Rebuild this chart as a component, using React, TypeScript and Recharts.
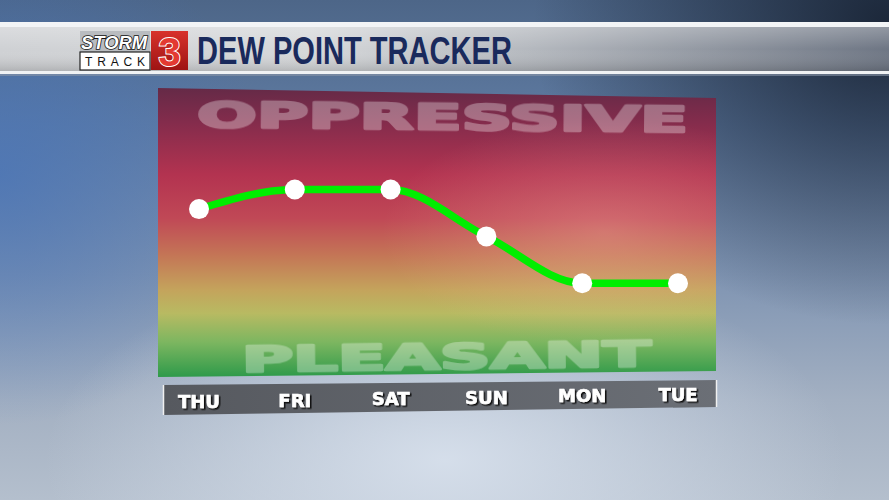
import React from 'react';
import { LineChart, Line, XAxis, YAxis, Customized } from 'recharts';

const days = ['THU', 'FRI', 'SAT', 'SUN', 'MON', 'TUE'];
const dewPoints = [65.5, 68, 68, 62, 56, 56];
const title = 'DEW POINT TRACKER';
const topLabel = 'OPPRESSIVE';
const bottomLabel = 'PLEASANT';

const data = days.map((d, i) => ({ day: d, dew: dewPoints[i] }));

const W = 889;
const H = 500;

const DayTick = (props: any) => {
  const { x, y, payload } = props;
  const tilt = (x - 199) * 0.0146;
  const by = y + 23 - tilt;
  return (
    <text
      x={x}
      y={by}
      textAnchor="middle"
      fill="#ffffff"
      stroke="#ffffff"
      strokeWidth={0.6}
      fontFamily="DejaVu Sans"
      fontWeight="bold"
      fontSize={18}
      filter="url(#tickShadow)"
    >
      {payload.value}
    </text>
  );
};

const Decor = () => (
  <g>
    <defs>
      <linearGradient id="panelGrad" x1="0" y1="0" x2="0" y2="1">
        <stop offset="0" stopColor="#652a47" />
        <stop offset="0.12" stopColor="#842c4c" />
        <stop offset="0.3" stopColor="#b33350" />
        <stop offset="0.45" stopColor="#c04856" />
        <stop offset="0.58" stopColor="#c47656" />
        <stop offset="0.7" stopColor="#c4a45c" />
        <stop offset="0.78" stopColor="#b8ba62" />
        <stop offset="0.88" stopColor="#7cb660" />
        <stop offset="1" stopColor="#2e9a4a" />
      </linearGradient>
      <radialGradient id="glare" cx="0.8" cy="0.5" r="0.4">
        <stop offset="0" stopColor="#ffc8b4" stopOpacity="0.28" />
        <stop offset="1" stopColor="#ffc8b4" stopOpacity="0" />
      </radialGradient>
      <linearGradient id="headerGrad" x1="0" y1="0" x2="1" y2="0">
        <stop offset="0" stopColor="#cfd1d4" />
        <stop offset="0.35" stopColor="#d6d8da" />
        <stop offset="0.6" stopColor="#b4b8be" />
        <stop offset="1" stopColor="#6e7684" />
      </linearGradient>
      <linearGradient id="headerShade" x1="0" y1="0" x2="0" y2="1">
        <stop offset="0" stopColor="#ffffff" stopOpacity="0.25" />
        <stop offset="0.5" stopColor="#ffffff" stopOpacity="0" />
        <stop offset="1" stopColor="#000000" stopOpacity="0.15" />
      </linearGradient>
      <linearGradient id="barGrad" x1="0" y1="0" x2="1" y2="0">
        <stop offset="0" stopColor="#56595f" />
        <stop offset="1" stopColor="#6b6f76" />
      </linearGradient>
      <linearGradient id="redGrad" x1="0" y1="0" x2="0" y2="1">
        <stop offset="0" stopColor="#d8322c" />
        <stop offset="1" stopColor="#9e1414" />
      </linearGradient>
      <filter id="tickShadow" x="-20%" y="-40%" width="140%" height="180%">
        <feDropShadow dx="1.5" dy="1.5" stdDeviation="0.6" floodColor="#111" floodOpacity="1" />
      </filter>
    </defs>

    {/* header band */}
    <rect x={0} y={22} width={W} height={5} fill="#f2f4f6" />
    <rect x={0} y={27} width={W} height={44} fill="url(#headerGrad)" />
    <rect x={0} y={27} width={W} height={44} fill="url(#headerShade)" />
    <rect x={0} y={71} width={W} height={3} fill="#f0f2f4" />
    <rect x={0} y={74} width={W} height={2} fill="#8a96a8" opacity={0.6} />

    {/* logo */}
    <rect x={80} y={31} width={70} height={21} fill="#b9bcc0" />
    <text
      x={81}
      y={49}
      fontFamily="Liberation Sans"
      fontWeight="bold"
      fontStyle="italic"
      fontSize={19}
      fill="#ffffff"
      stroke="#111"
      strokeWidth={1.6}
      paintOrder="stroke"
      textLength={66}
      lengthAdjust="spacingAndGlyphs"
    >
      STORM
    </text>
    <rect x={80} y={52} width={70} height={18} fill="#ffffff" stroke="#222" strokeWidth={1.2} />
    <text
      x={85}
      y={66}
      fontFamily="Liberation Sans"
      fontSize={12}
      fill="#111"
      textLength={60}
      lengthAdjust="spacing"
    >
      TRACK
    </text>
    <rect x={151} y={31} width={37} height={39} fill="url(#redGrad)" />
    <text
      x={169.5}
      y={66}
      textAnchor="middle"
      fontFamily="Liberation Sans"
      fontWeight="bold"
      fontSize={40}
      fill="#e33a32"
      stroke="#ffffff"
      strokeWidth={2}
      paintOrder="stroke"
    >
      3
    </text>

    {/* title */}
    <text
      x={197}
      y={64}
      fontFamily="Liberation Sans Narrow, Liberation Sans"
      fontWeight="bold"
      fontSize={39}
      fill="#1a2a5c"
      textLength={315}
      lengthAdjust="spacingAndGlyphs"
    >
      {title}
    </text>

    {/* panel */}
    <polygon points="158,88 716,98 716,371 158,377" fill="url(#panelGrad)" />
    <polygon points="158,88 716,98 716,371 158,377" fill="url(#glare)" />
    <g opacity={0.32}>
      <text
        x={197}
        y={127}
        fontFamily="DejaVu Sans"
        fontWeight="bold"
        fontSize={36}
        fill="#ffffff"
        stroke="#ffffff"
        strokeWidth={2.5}
        strokeLinejoin="round"
        textLength={491}
        lengthAdjust="spacingAndGlyphs"
        transform="rotate(0.6 196 127)"
      >
        {topLabel}
      </text>
      <text
        x={242}
        y={372}
        fontFamily="DejaVu Sans"
        fontWeight="bold"
        fontSize={35}
        fill="#ffffff"
        stroke="#ffffff"
        strokeWidth={2.5}
        strokeLinejoin="round"
        textLength={409}
        lengthAdjust="spacingAndGlyphs"
        transform="rotate(-0.8 241 373)"
      >
        {bottomLabel}
      </text>
    </g>

    {/* day bar */}
    <polygon points="163,385 717,380 717,407 163,415" fill="url(#barGrad)" />
    <line x1={163.5} y1={385} x2={163.5} y2={415} stroke="#f0f0f0" strokeWidth={1.5} />
    <line x1={716.5} y1={380} x2={716.5} y2={407} stroke="#f0f0f0" strokeWidth={1.5} />
  </g>
);

export default function App() {
  return (
    <div
      style={{
        position: 'absolute',
        left: 0,
        top: 0,
        width: W,
        height: H,
        overflow: 'hidden',
        background: [
          'radial-gradient(ellipse 45% 40% at 50% 92%, rgba(215,224,236,0.95), rgba(215,224,236,0) 100%)',
          'radial-gradient(ellipse 40% 60% at 100% 5%, rgba(22,32,48,0.9), rgba(22,32,48,0) 100%)',
          'radial-gradient(ellipse 30% 50% at 0% 35%, rgba(70,115,185,0.7), rgba(70,115,185,0) 100%)',
          'linear-gradient(180deg, #4d6688 0%, #5f7ba2 25%, #7f94b2 55%, #a3b0c2 80%, #b4bfcd 100%)',
        ].join(','),
      }}
    >
      <LineChart
        width={W}
        height={H}
        data={data}
        margin={{ top: 88, right: 173, bottom: 93, left: 158 }}
      >
        <Customized component={Decor} />
        <XAxis
          dataKey="day"
          height={30}
          axisLine={false}
          tickLine={false}
          interval={0}
          padding={{ left: 41, right: 38 }}
          tick={<DayTick />}
        />
        <YAxis hide domain={[44, 81]} />
        <Line
          type="monotone"
          dataKey="dew"
          stroke="#00ee00"
          strokeWidth={7.5}
          dot={{ r: 10, fill: '#ffffff', stroke: 'none' }}
          activeDot={false}
          isAnimationActive={false}
        />
      </LineChart>
    </div>
  );
}
